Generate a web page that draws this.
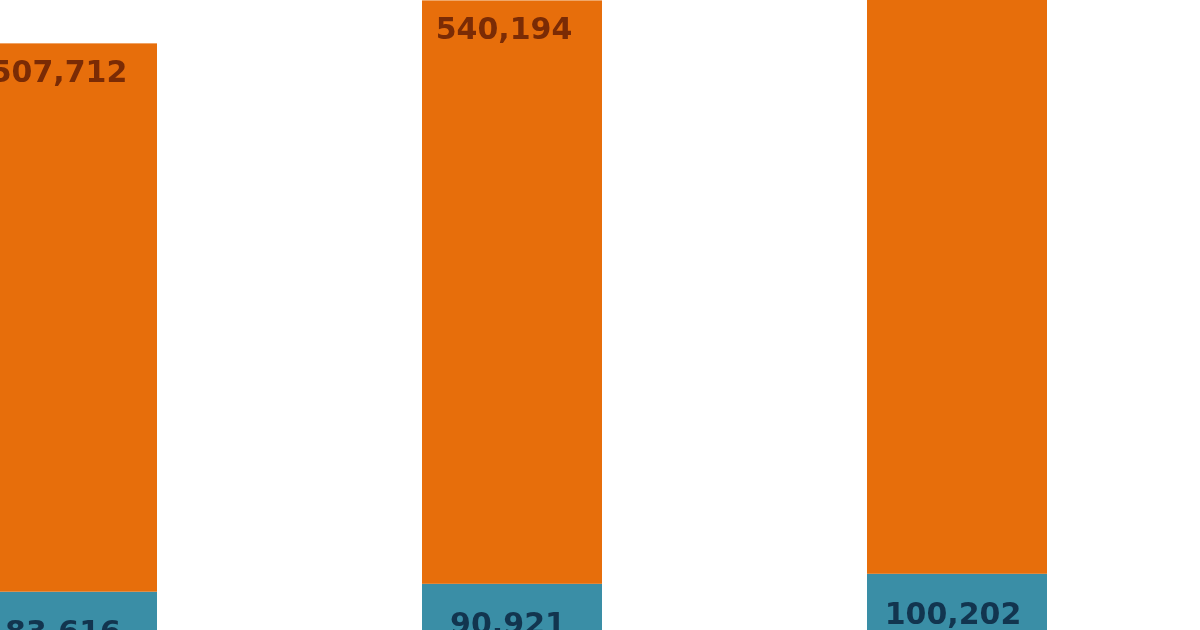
<!DOCTYPE html>
<html>
<head>
<meta charset="utf-8">
<script src="https://cdn.jsdelivr.net/npm/d3@7"></script>
<style>
  html, body { margin: 0; padding: 0; background: #fff; overflow: hidden; }
  svg { display: block; filter: blur(0.5px); }
</style>
</head>
<body>
<div id="chart"></div>
<script>
// Zoomed-in crop of a stacked column chart: three columns, lower (blue) and
// upper (orange) segments, value labels inside each segment.

const categories = ["2019", "2020", "2021"];
const lowerValues = [83616, 90921, 100202];
const upperValues = [507712, 540194, 590000];
const lowerLabels = ["83,616", "90,921", "100,202"];
const upperLabels = ["507,712", "540,194", "590,000"];

const WIDTH = 1200;
const HEIGHT = 630;

const PALETTE = {
  lower: "#3a8ea6",
  upper: "#e76e0b",
  lowerText: "#12354f",
  upperText: "#7a2b05",
};

const d3x = window.d3;

// the visible frame only shows part of the plot: baseline and category axis sit below it
const baseline = 682;
const pxPerUnit = 0.00108;
const yMax = 700000;

const x = d3x
  .scaleBand()
  .domain(categories)
  .range([-23, 1047])
  .paddingInner(265 / 445)
  .paddingOuter(0);

const y = d3x.scaleLinear().domain([0, yMax]).range([baseline, baseline - yMax * pxPerUnit]);

const rows = categories.map((cat, i) => ({
  cat,
  lower: lowerValues[i],
  upper: upperValues[i],
  lowerLabel: lowerLabels[i],
  upperLabel: upperLabels[i],
}));

const stacked = d3x.stack().keys(["lower", "upper"])(rows);

const svg = d3x
  .select("#chart")
  .append("svg")
  .attr("width", WIDTH)
  .attr("height", HEIGHT)
  .attr("viewBox", [0, 0, WIDTH, HEIGHT]);

svg
  .selectAll("g.series")
  .data(stacked)
  .join("g")
  .attr("class", "series")
  .attr("fill", (s) => PALETTE[s.key])
  .selectAll("rect")
  .data((s) => s)
  .join("rect")
  .attr("x", (d) => x(d.data.cat))
  .attr("width", x.bandwidth())
  .attr("y", (d) => y(d[1]))
  .attr("height", (d) => y(d[0]) - y(d[1]));

const labelFont = "'DejaVu Sans', Verdana, sans-serif";

// upper segment labels near the top of each column
svg
  .append("g")
  .selectAll("text")
  .data(rows)
  .join("text")
  .attr("x", (d) => x(d.cat) + x.bandwidth() / 2 - 8)
  .attr("y", (d) => y(d.lower + d.upper) + 39)
  .attr("text-anchor", "middle")
  .attr("fill", PALETTE.upperText)
  .style("font-family", labelFont)
  .style("font-weight", "bold")
  .style("font-size", "30px")
  .text((d) => d.upperLabel);

// lower segment labels just under the segment boundary
svg
  .append("g")
  .selectAll("text")
  .data(rows)
  .join("text")
  .attr("x", (d) => x(d.cat) + x.bandwidth() / 2 - 4)
  .attr("y", (d) => y(d.lower) + 50)
  .attr("text-anchor", "middle")
  .attr("fill", PALETTE.lowerText)
  .style("font-family", labelFont)
  .style("font-weight", "bold")
  .style("font-size", "30px")
  .text((d) => d.lowerLabel);

// category axis (falls below the visible frame)
svg
  .append("g")
  .attr("transform", `translate(0,${baseline})`)
  .call(d3x.axisBottom(x).tickSize(0))
  .call((g) => g.select(".domain").attr("stroke", "#bfbfbf"));
</script>
</body>
</html>
